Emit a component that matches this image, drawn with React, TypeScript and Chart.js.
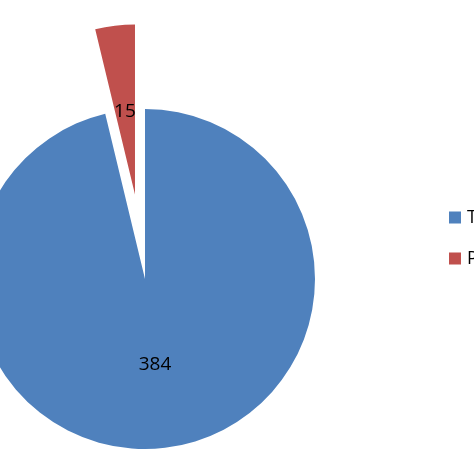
import { useEffect, useRef } from "react";
import { Chart, registerables } from "chart.js";

Chart.register(...registerables);

// data
const categories = ["Total", "Positive"];
const counts = [384, 15];
const explodeDist = [0, 85]; // px the slice is pulled out from the centre
const sliceColors = ["#4F81BD", "#C0504D"];

// move exploded slices straight out along their bisector (pure translation)
const explodePlugin = {
  id: "explodeSlices",
  afterDatasetUpdate(chart: any, args: any) {
    const meta = chart.getDatasetMeta(args.index);
    meta.data.forEach((arc: any, i: number) => {
      const d = explodeDist[i] || 0;
      if (!d) return;
      const mid = (arc.startAngle + arc.endAngle) / 2;
      arc.x += Math.cos(mid) * d;
      arc.y += Math.sin(mid) * d;
    });
  },
};

const sliceLabels = {
  id: "sliceLabels",
  afterDatasetsDraw(chart: any) {
    const ctx = chart.ctx;
    const meta = chart.getDatasetMeta(0);
    ctx.save();
    ctx.font = '19px "Open Sans"';
    ctx.fillStyle = "#000";
    ctx.textAlign = "center";
    ctx.textBaseline = "middle";
    meta.data.forEach((arc: any, i: number) => {
      const mid = (arc.startAngle + arc.endAngle) / 2;
      const r = arc.outerRadius * 0.5;
      ctx.fillText(String(counts[i]), arc.x + Math.cos(mid) * r, arc.y + Math.sin(mid) * r + 1);
    });
    ctx.restore();
  },
};

export default function App() {
  const canvasRef = useRef<HTMLCanvasElement | null>(null);

  useEffect(() => {
    if (!canvasRef.current) return;
    const chart = new Chart(canvasRef.current, {
      type: "pie",
      data: {
        labels: categories,
        datasets: [
          {
            data: counts,
            backgroundColor: sliceColors,
            borderWidth: 0,
            radius: 170,
          } as any,
        ],
      },
      options: {
        animation: false,
        responsive: false,
        layout: { padding: { top: 185.5, bottom: 101.5, left: 0, right: 132 } },
        plugins: {
          legend: {
            position: "right",
            align: "start",
            maxWidth: 100,
            labels: {
              // small box + thick stroke of the same colour: 12px square, text sits closer
              boxWidth: 6,
              boxHeight: 6,
              padding: 23,
              color: "#000",
              font: { size: 18, family: '"Open Sans"' },
              generateLabels: (c: any) =>
                (Chart as any).overrides.pie.plugins.legend.labels
                  .generateLabels(c)
                  .map((item: any) => ({ ...item, strokeStyle: item.fillStyle, lineWidth: 6 })),
            },
          },
          tooltip: { enabled: false },
        },
      },
      plugins: [explodePlugin, sliceLabels],
    });
    return () => {
      chart.destroy();
    };
  }, []);

  return (
    <div
      style={{
        position: "fixed",
        left: 0,
        top: 0,
        width: 474,
        height: 474,
        overflow: "hidden",
        background: "#fff",
      }}
    >
      <canvas
        ref={canvasRef}
        width={800}
        height={474}
        style={{ position: "absolute", left: -139, top: 0 }}
      />
    </div>
  );
}
